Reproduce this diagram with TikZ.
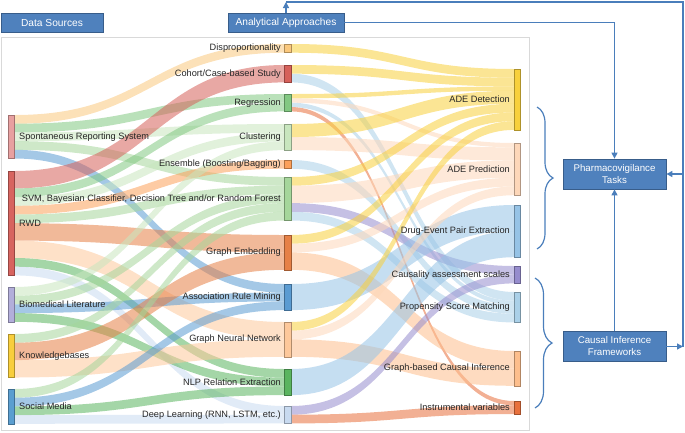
\documentclass[tikz,border=0pt]{standalone}
\usepackage{fontspec}
\setmainfont{Liberation Sans}
\usetikzlibrary{arrows.meta}
\usetikzlibrary{decorations.pathreplacing}
\usetikzlibrary{positioning}

\definecolor{hdrblue}{RGB}{79,129,189}
\definecolor{hdredge}{RGB}{56,93,138}
\definecolor{linkblue}{RGB}{74,126,187}
\definecolor{cSRS}{RGB}{232,160,160}
\definecolor{cRWD}{RGB}{215,100,95}
\definecolor{cBL}{RGB}{178,174,218}
\definecolor{cKB}{RGB}{248,206,60}
\definecolor{cSM}{RGB}{90,158,208}
\definecolor{cDisp}{RGB}{250,200,125}
\definecolor{cCohort}{RGB}{214,96,90}
\definecolor{cRegr}{RGB}{130,200,130}
\definecolor{cClust}{RGB}{200,230,190}
\definecolor{cEns}{RGB}{252,160,90}
\definecolor{cSVM}{RGB}{165,214,155}
\definecolor{cGE}{RGB}{230,128,70}
\definecolor{cARM}{RGB}{90,155,210}
\definecolor{cGNN}{RGB}{253,200,155}
\definecolor{cNLP}{RGB}{90,180,95}
\definecolor{cDL}{RGB}{200,218,240}
\definecolor{cADED}{RGB}{248,208,60}
\definecolor{cADEP}{RGB}{253,215,185}
\definecolor{cDEPE}{RGB}{150,195,230}
\definecolor{cCAS}{RGB}{150,140,205}
\definecolor{cPSM}{RGB}{170,208,232}
\definecolor{cGCI}{RGB}{253,190,140}
\definecolor{cIV}{RGB}{232,112,60}

% band from (x1,y1) to (x2,y2), width w
\newcommand{\flow}[6]{\fill[#6,fill opacity=0.55] (#1,#2) .. controls ({(#1+#3)/2},#2) and ({(#1+#3)/2},#4) .. (#3,#4) -- (#3,{#4+#5}) .. controls ({(#1+#3)/2},{#4+#5}) and ({(#1+#3)/2},{#2+#5}) .. (#1,{#2+#5}) -- cycle;}
\newcommand{\lflow}[4]{\flow{14.5}{#1}{284.5}{#2}{#3}{#4}}
\newcommand{\rflow}[4]{\flow{291}{#1}{514}{#2}{#3}{#4}}
\newcommand{\pvbar}[4]{\draw[#4!70!black,fill=#4,line width=0.6pt] (#1,#2) rectangle ++(6.5,#3);}

\tikzset{
  hdr/.style={draw=hdredge,fill=hdrblue,text=white,line width=0.8pt,inner sep=0pt,
    font=\fontsize{10.2}{12}\selectfont,minimum height=19pt},
  task/.style={draw=hdredge,fill=hdrblue,text=white,line width=0.8pt,inner sep=0pt,align=center,
    font=\fontsize{9.7}{12}\selectfont,minimum width=103pt,minimum height=30pt},
  lbl/.style={font=\fontsize{9.2}{11}\selectfont,text=black!85,inner sep=0pt},
  link/.style={linkblue,line width=1.2pt},
  tip/.style={-{Triangle[length=6pt,width=6pt]}},
  curly/.style={linkblue,line width=1.2pt,decorate,decoration={brace,amplitude=#1}}
}

\begin{document}
\begin{tikzpicture}[x=1pt,y=-1pt]
\useasboundingbox (0,0) rectangle (685,432);
\draw[black!15,line width=1pt] (1,37) rectangle (529,430);

\lflow{115}{44}{8.7}{cDisp}
\lflow{123.7}{94}{8.7}{cRegr}
\lflow{132.4}{124}{8.7}{cClust}
\lflow{141.1}{177}{8.7}{cSVM}
\lflow{149.8}{284}{8.7}{cARM}
\lflow{171}{65}{17.4}{cCohort}
\lflow{188.4}{102.7}{8.7}{cRegr}
\lflow{197.1}{132.7}{8.7}{cClust}
\lflow{205.8}{160}{8.7}{cEns}
\lflow{214.5}{185.7}{8.7}{cSVM}
\lflow{223.2}{235}{17.4}{cGE}
\lflow{240.6}{322}{17.4}{cGNN}
\lflow{258}{369}{8.7}{cNLP}
\lflow{266.7}{406}{8.7}{cDL}
\lflow{287}{141.4}{8.7}{cClust}
\lflow{295.7}{194.4}{8.7}{cSVM}
\lflow{304.4}{292.7}{8.7}{cARM}
\lflow{313.1}{377.7}{8.7}{cNLP}
\lflow{334}{203.1}{8.7}{cSVM}
\lflow{342.7}{252.4}{17.4}{cGE}
\lflow{360.1}{339.4}{17.4}{cGNN}
\lflow{389}{211.8}{8.7}{cSVM}
\lflow{397.7}{301.4}{8.7}{cARM}
\lflow{406.4}{386.4}{8.7}{cNLP}
\lflow{415.1}{414.7}{8.7}{cDL}

\rflow{44}{69}{8.7}{cADED}
\rflow{65}{77.7}{8.7}{cADED}
\rflow{73.7}{292}{8.7}{cPSM}
\rflow{94}{86.4}{4.35}{cADED}
\rflow{98.35}{143}{4.35}{cADEP}
\rflow{102.7}{300.7}{4.35}{cPSM}
\rflow{107.05}{401}{4.35}{cIV}
\rflow{124}{90.75}{13.05}{cADED}
\rflow{137.05}{147.35}{13.05}{cADEP}
\rflow{160}{305.05}{8.7}{cPSM}
\rflow{177}{103.8}{8.7}{cADED}
\rflow{185.7}{160.4}{17.4}{cADEP}
\rflow{203.1}{266}{8.7}{cCAS}
\rflow{211.8}{313.75}{8.7}{cPSM}
\rflow{235}{112.5}{8.7}{cADED}
\rflow{243.7}{177.8}{8.7}{cADEP}
\rflow{252.4}{351}{17.4}{cGCI}
\rflow{284}{205}{26.1}{cDEPE}
\rflow{322}{121.2}{8.7}{cADED}
\rflow{330.7}{186.5}{8.7}{cADEP}
\rflow{339.4}{368.4}{17.4}{cGCI}
\rflow{369}{231.1}{26.1}{cDEPE}
\rflow{406}{274.7}{8.7}{cCAS}
\rflow{414.7}{405.35}{8.7}{cIV}

\pvbar{8}{115}{43.5}{cSRS}
\pvbar{8}{171}{104.4}{cRWD}
\pvbar{8}{287}{34.8}{cBL}
\pvbar{8}{334}{43.5}{cKB}
\pvbar{8}{389}{34.8}{cSM}
\pvbar{284.5}{44}{8.7}{cDisp}
\pvbar{284.5}{65}{17.4}{cCohort}
\pvbar{284.5}{94}{17.4}{cRegr}
\pvbar{284.5}{124}{26.1}{cClust}
\pvbar{284.5}{160}{8.7}{cEns}
\pvbar{284.5}{177}{43.5}{cSVM}
\pvbar{284.5}{235}{34.8}{cGE}
\pvbar{284.5}{284}{26.1}{cARM}
\pvbar{284.5}{322}{34.8}{cGNN}
\pvbar{284.5}{369}{26.1}{cNLP}
\pvbar{284.5}{406}{17.4}{cDL}
\pvbar{514}{69}{60.9}{cADED}
\pvbar{514}{143}{52.2}{cADEP}
\pvbar{514}{205}{52.2}{cDEPE}
\pvbar{514}{266}{17.4}{cCAS}
\pvbar{514}{292}{30.45}{cPSM}
\pvbar{514}{351}{34.8}{cGCI}
\pvbar{514}{401}{13.05}{cIV}

\node[lbl,anchor=west] (srs) at (19,136.8) {Spontaneous Reporting System};
\node[lbl,anchor=west] (rwd) at (19,223.2) {RWD};
\node[lbl,anchor=west] (bml) at (19,304.4) {Biomedical Literature};
\node[lbl,anchor=west] (kb) at (19,355.8) {Knowledgebases};
\node[lbl,anchor=west] (sm) at (19,406.4) {Social Media};

\node[lbl,anchor=east] (dispro) at (281,48.4) {Disproportionality};
\node[lbl,anchor=east] (cohort) at (281,73.7) {Cohort/Case-based Study};
\node[lbl,anchor=east] (regr) at (281,102.7) {Regression};
\node[lbl,anchor=east] (clust) at (281,137.05) {Clustering};
\node[lbl,anchor=east] (ensem) at (281,164.35) {Ensemble (Boosting/Bagging)};
\node[lbl,anchor=east] (svm) at (281,198.75) {SVM, Bayesian Classifier, Decision Tree and/or Random Forest};
\node[lbl,anchor=east] (gemb) at (281,252.4) {Graph Embedding};
\node[lbl,anchor=east] (arm) at (281,297.05) {Association Rule Mining};
\node[lbl,anchor=east] (gnn) at (281,339.4) {Graph Neural Network};
\node[lbl,anchor=east] (nlp) at (281,382.05) {NLP Relation Extraction};
\node[lbl,anchor=east] (dl) at (281,414.7) {Deep Learning (RNN, LSTM, etc.)};

\node[lbl,anchor=east] (aded) at (510,99.45) {ADE Detection};
\node[lbl,anchor=east] (adep) at (510,169.1) {ADE Prediction};
\node[lbl,anchor=east] (depe) at (510,231.1) {Drug-Event Pair Extraction};
\node[lbl,anchor=east] (cas) at (510,274.7) {Causality assessment scales};
\node[lbl,anchor=east] (psm) at (510,307.2) {Propensity Score Matching};
\node[lbl,anchor=east] (gci) at (510,368.4) {Graph-based Causal Inference};
\node[lbl,anchor=east] (iv) at (510,407.5) {Instrumental variables};

\node[hdr,minimum width=102pt] (ds) at (52,22.5) {Data Sources};
\node[hdr,minimum width=116pt] (aa) at (286,22.5) {Analytical Approaches};
\node[task] (pvt) at (614.5,174) {Pharmacovigilance\\Tasks};
\node[task] (cif) at (614.5,346.5) {Causal Inference\\Frameworks};

\coordinate (bustop) at (683,2);
\draw[link] (aa.north |- bustop) -- (bustop) -- (bustop |- cif.east);
\draw[link,tip] (aa.north) -- (aa.north |- bustop);
\draw[link,tip] (cif.east) -- (bustop |- cif.east);
\draw[link,tip] (bustop |- pvt.east) -- (pvt.east);
\draw[link,tip] (aa.east) -| (pvt.north);
\draw[link,tip] (cif.north) -- (pvt.south);

\draw[curly=16pt] (537,107) -- (537,249);
\draw[curly=17pt] (535,278) -- (535,408);
\end{tikzpicture}
\end{document}
